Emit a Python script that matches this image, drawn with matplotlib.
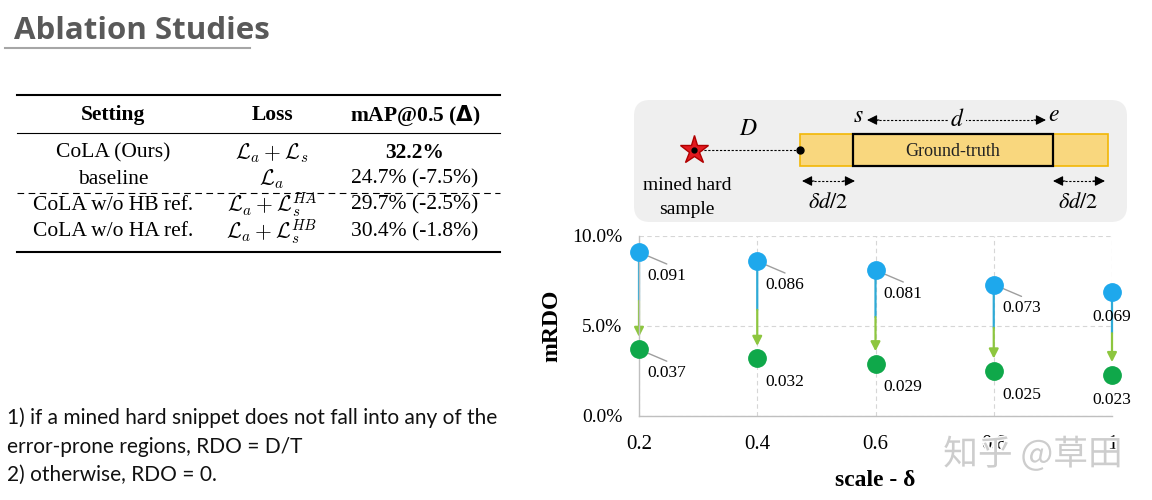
import matplotlib
matplotlib.use("Agg")
import matplotlib.pyplot as plt
from matplotlib.patches import FancyBboxPatch, Rectangle
from matplotlib.ticker import PercentFormatter
import matplotlib.patheffects as pe

# data
deltas = [0.2, 0.4, 0.6, 0.8, 1.0]
delta_labels = ["0.2", "0.4", "0.6", "0.8", "1"]
rdo_before = [0.091, 0.086, 0.081, 0.073, 0.069]
rdo_after = [0.037, 0.032, 0.029, 0.025, 0.023]
y_ticks = [0.0, 0.05, 0.10]

table_header = ["Setting", "Loss", r"mAP@0.5 ($\mathbf{\Delta}$)"]
settings = ["CoLA (Ours)", "baseline", "CoLA w/o HB ref.", "CoLA w/o HA ref."]
losses = [r"$\mathcal{L}_a+\mathcal{L}_s$", r"$\mathcal{L}_a$",
          r"$\mathcal{L}_a+\mathcal{L}_s^{HA}$", r"$\mathcal{L}_a+\mathcal{L}_s^{HB}$"]
maps = ["32.2%", "24.7% (-7.5%)", "29.7% (-2.5%)", "30.4% (-1.8%)"]

notes = ["1) if a mined hard snippet does not fall into any of the",
         "error-prone regions, RDO = D/T",
         "2) otherwise, RDO = 0."]

# styles
BLUE = "#1EA8EC"
GREEN = "#0FA84A"
BLUE_LINE = "#2EAAD6"
GREEN_LINE = "#8DC63F"
SERIF = "Liberation Serif"
blue_leader = [True, True, True, True, False]
green_leader = [True, False, False, False, False]


def main():
    fig = plt.figure(figsize=(11.52, 5), dpi=100)

    # overlay in pixel coordinates for the slide content
    ov = fig.add_axes([0, 0, 1, 1])
    ov.set_xlim(0, 1152)
    ov.set_ylim(500, 0)
    ov.axis("off")

    # title
    ov.text(14, 31, "Ablation Studies", fontfamily="Open Sans", fontweight="bold",
            fontsize=22.5, color="#595959", va="center", ha="left")
    ov.plot([5, 250], [47.5, 47.5], color="#A6A6A6", lw=1.5)

    # table
    ov.plot([17, 500], [95, 95], color="k", lw=1.5)
    ov.plot([17, 500], [133, 133], color="k", lw=0.8)
    ov.plot([17, 500], [193, 193], color="k", lw=0.8, ls=(0, (6, 4)))
    ov.plot([17, 500], [252, 252], color="k", lw=1.5)
    col_x = [113, 272, 415]
    for cx, h in zip(col_x, table_header):
        ov.text(cx, 115, h, fontfamily=SERIF, fontweight="bold", fontsize=15.5,
                ha="center", va="center")
    row_y = [153, 179, 205, 232]
    for i, ry in enumerate(row_y):
        ov.text(col_x[0], ry, settings[i], fontfamily=SERIF, fontsize=15.5,
                ha="center", va="center")
        ov.text(col_x[1], ry, losses[i], fontsize=15.5, math_fontfamily="cm",
                ha="center", va="center")
        ov.text(col_x[2], ry, maps[i], fontfamily=SERIF, fontsize=15.5,
                fontweight="bold" if i == 0 else "normal", ha="center", va="center")

    # notes
    for ny, line in zip([418, 447, 475], notes):
        ov.text(7, ny, line, fontfamily="Lato", fontsize=15, color="#111111",
                ha="left", va="center")

    # diagram
    box = FancyBboxPatch((634, 100), 493, 122, boxstyle="round,pad=0,rounding_size=16",
                         fc="#EFEFEF", ec="none")
    ov.add_patch(box)
    ov.add_patch(Rectangle((800, 134), 308, 32, fc="#F9D77E", ec="#F2B705", lw=1.2))
    ov.add_patch(Rectangle((853, 134), 200, 32, fc="none", ec="k", lw=1.6))
    ov.text(953, 151, "Ground-truth", fontfamily=SERIF, fontsize=13, color="#222222",
            ha="center", va="center")
    ov.plot([700, 800], [150, 150], color="k", lw=0.8, ls=(0, (2, 1.5)))
    ov.plot(800, 150, "o", color="k", ms=5)
    ov.plot(694, 150, "*", color="#E3191F", mec="#B00000", ms=21)
    ov.plot(694, 150, "o", color="k", ms=3.5)
    ov.text(748, 128, "$D$", fontsize=17, math_fontfamily="stix", ha="center", va="center")
    ov.text(864, 115, "$s$", fontsize=17, math_fontfamily="stix", ha="right", va="center")
    ov.text(1048, 114, "$e$", fontsize=17, math_fontfamily="stix", ha="left", va="center")
    ov.text(687, 185, "mined hard", fontfamily=SERIF, fontsize=14, ha="center", va="center")
    ov.text(687, 209, "sample", fontfamily=SERIF, fontsize=14, ha="center", va="center")
    ov.text(828, 202, r"$\delta d/2$", fontsize=16, math_fontfamily="stix", ha="center", va="center")
    ov.text(1078, 202, r"$\delta d/2$", fontsize=16, math_fontfamily="stix", ha="center", va="center")

    # dashed double arrows
    for x0, x1, yy in [(867, 1046, 120), (802, 855, 181), (1053, 1105, 181)]:
        ov.plot([x0 + 8, x1 - 8], [yy, yy], color="k", lw=0.8, ls=(0, (2, 1.5)))
        ov.annotate("", xy=(x0, yy), xytext=(x0 + 12, yy),
                    arrowprops=dict(arrowstyle="-|>,head_length=0.6,head_width=0.3",
                                    color="k", lw=0.8, shrinkA=0, shrinkB=0))
        ov.annotate("", xy=(x1, yy), xytext=(x1 - 12, yy),
                    arrowprops=dict(arrowstyle="-|>,head_length=0.6,head_width=0.3",
                                    color="k", lw=0.8, shrinkA=0, shrinkB=0))
    ov.text(957, 119, "$d$", fontsize=17, math_fontfamily="stix", ha="center", va="center",
            bbox=dict(fc="#EFEFEF", ec="none", pad=1))

    # chart
    ax = fig.add_axes([639 / 1152, 84 / 500, 473 / 1152, 180 / 500])
    ax.patch.set_alpha(0)
    ax.set_xlim(0.2, 1.0)
    ax.set_ylim(0, 0.10)
    ax.set_xticks(deltas)
    ax.set_xticklabels(delta_labels, fontfamily=SERIF, fontsize=15)
    ax.set_yticks(y_ticks)
    ax.yaxis.set_major_formatter(PercentFormatter(xmax=1, decimals=1))
    for lab in ax.get_yticklabels():
        lab.set_fontfamily(SERIF)
        lab.set_fontsize(14)
    ax.tick_params(axis="y", length=0, pad=12)
    ax.tick_params(axis="x", length=0, pad=14)
    ax.grid(True, color="#D6D6D6", ls=(0, (4, 3)), lw=0.8)
    ax.set_axisbelow(True)
    for side in ["top", "right"]:
        ax.spines[side].set_visible(False)
    for side in ["left", "bottom"]:
        ax.spines[side].set_color("#BFBFBF")
        ax.spines[side].set_linewidth(1.0)

    for i, x in enumerate(deltas):
        b = rdo_before[i]
        g = rdo_after[i]
        mid = (b + g) / 2
        ax.annotate("", xy=(x, mid), xytext=(x, b), annotation_clip=False,
                    arrowprops=dict(arrowstyle="-", color=BLUE_LINE, lw=1.6,
                                    shrinkA=0, shrinkB=0), zorder=2)
        ax.annotate("", xy=(x, g), xytext=(x, mid), annotation_clip=False,
                    arrowprops=dict(arrowstyle="-|>,head_length=0.55,head_width=0.28",
                                    color=GREEN_LINE, lw=1.6, shrinkA=0, shrinkB=9), zorder=2)

        for v, lead in [(b, blue_leader[i]), (g, green_leader[i])]:
            if x == 1.0:
                off = (0, -18)
            else:
                off = (20, -17)
            if lead:
                ax.annotate("", xy=(x, v), xytext=(20, -8.5), textcoords="offset points",
                            annotation_clip=False,
                            arrowprops=dict(arrowstyle="-", color="#9E9E9E", lw=1,
                                            shrinkA=0, shrinkB=0), zorder=3)
            ax.annotate(f"{v:.3f}", xy=(x, v), xytext=off, textcoords="offset points",
                        ha="center", va="center", fontfamily=SERIF, fontsize=12.5,
                        annotation_clip=False, zorder=6)

    ax.plot(deltas, rdo_before, "o", color=BLUE, ms=12.5, clip_on=False, zorder=4)
    ax.plot(deltas, rdo_after, "o", color=GREEN, ms=12.5, clip_on=False, zorder=4)

    ax.set_ylabel("mRDO", fontfamily=SERIF, fontweight="bold", fontsize=17)
    ax.yaxis.set_label_coords(-0.184, 0.5)
    ax.yaxis.label.set_va("center")
    ax.set_xlabel("scale - δ", fontfamily=SERIF, fontweight="bold", fontsize=17)
    ax.xaxis.set_label_coords(0.5, -0.36)
    ax.xaxis.label.set_va("center")

    # watermark
    fig.text(1033 / 1152, 1 - 455 / 500, "知乎 @草田", fontfamily=["Noto Sans CJK SC", "DejaVu Sans"],
             fontsize=25, color="#CDCDCD", ha="center", va="center", zorder=10,
             path_effects=[pe.withStroke(linewidth=2, foreground="white")])

    fig.savefig("out.png", dpi=100)


if __name__ == "__main__":
    main()
